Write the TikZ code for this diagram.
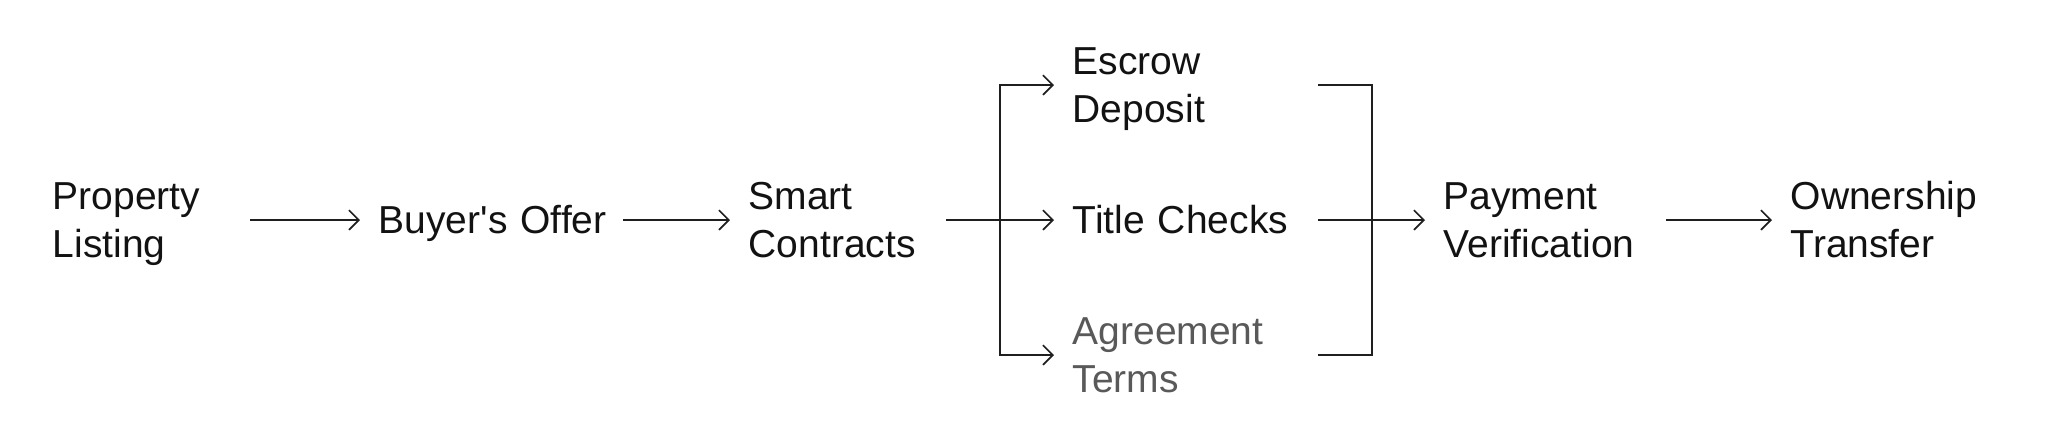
\documentclass[tikz,border=0pt]{standalone}
\usepackage{fontspec}
\setmainfont{Liberation Sans}[Ligatures=TeXOff]
\usetikzlibrary{arrows.meta}
\newcommand{\linestrut}{\rule[-2.9pt]{0pt}{13.5pt}}
\begin{document}
\begin{tikzpicture}[
  stage/.style={anchor=west, inner xsep=0pt, inner ysep=2pt, align=left,
    text=black!93, font=\fontsize{11.1}{13.5}\selectfont,
    execute at begin node=\linestrut, execute at end node=\linestrut},
  faded/.style={text=black!65},
  wire/.style={draw=black!88, line width=0.5pt},
  flow/.style={wire, -{Straight Barb[length=2.8pt,width=5.6pt]}, shorten >=0.18cm}]
  \useasboundingbox (0,0) rectangle (20.48,4.29);
  \coordinate (split) at (10.00,2.09);
  \coordinate (merge) at (13.72,2.09);
  \node[stage, text width=1.97cm] (listing) at (0.52,2.09) {Property\\Listing};
  \node[stage, text width=2.44cm] (offer) at (3.78,2.09) {Buyer's Offer};
  \node[stage, text width=1.97cm] (smart) at (7.48,2.09) {Smart\\Contracts};
  \node[stage, text width=2.45cm] (escrow) at (10.72,3.44) {Escrow\\Deposit};
  \node[stage, text width=2.45cm] (checks) at (10.72,2.09) {Title Checks};
  \node[stage, faded, text width=2.45cm] (terms) at (10.72,0.74) {Agreement\\Terms};
  \node[stage, text width=2.22cm] (payment) at (14.43,2.09) {Payment\\Verification};
  \node[stage, text width=2.00cm] (transfer) at (17.90,2.09) {Ownership\\Transfer};
  \draw[flow] (listing.east) -- (offer.west);
  \draw[flow] (offer.east) -- (smart.west);
  \draw[wire] (smart.east) -- (split);
  \draw[flow] (split) |- (escrow.west);
  \draw[flow] (split) -- (checks.west);
  \draw[flow] (split) |- (terms.west);
  \draw[wire] (escrow.east) -- (merge |- escrow.east) -- (merge |- terms.east) -- (terms.east);
  \draw[flow] (checks.east) -- (payment.west);
  \draw[flow] (payment.east) -- (transfer.west);
\end{tikzpicture}
\end{document}
